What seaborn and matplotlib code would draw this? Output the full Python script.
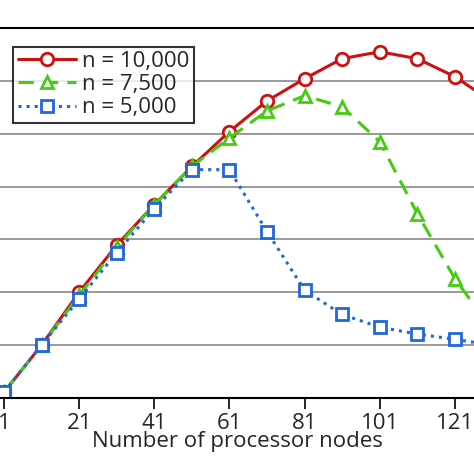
import numpy as np
import pandas as pd
import seaborn as sns
import matplotlib.pyplot as plt

nodes = [1, 11, 21, 31, 41, 51, 61, 71, 81, 91, 101, 111, 121, 131]
n10000 = [0.11, 1.0, 2.0, 2.89, 3.66, 4.38, 5.04, 5.62, 6.04, 6.42, 6.55, 6.42, 6.08, 5.6]
n7500 = [0.11, 1.0, 1.94, 2.85, 3.66, 4.38, 4.92, 5.43, 5.72, 5.51, 4.85, 3.49, 2.26, 1.28]
n5000 = [0.11, 1.0, 1.87, 2.75, 3.58, 4.32, 4.32, 3.15, 2.04, 1.58, 1.34, 1.21, 1.11, 1.0]
labels = ["n = 10,000", "n = 7,500", "n = 5,000"]

sns.set_style("white")
plt.rcParams['font.family'] = ['Open Sans', 'DejaVu Sans']

fig = plt.figure(figsize=(4.74, 4.74), dpi=100)
ax = fig.add_axes([0, 1 - 398 / 474, 1, 370 / 474])

styles = [
    (n10000, "#cc1111", "-", "o", 9),
    (n7500, "#44cc11", (0, (5, 3)), "^", 9),
    (n5000, "#2266dd", ":", "s", 9),
]
for (vals, c, ls, m, ms), lab in zip(styles, labels):
    sns.lineplot(x=nodes, y=vals, ax=ax, color=c, linestyle=ls, marker=m, markersize=ms,
                 markerfacecolor="white", markeredgecolor=c, markeredgewidth=2,
                 linewidth=2.2, label=lab)

ax.set_xlim(-0.06, 126.1)
ax.set_ylim(0, 7)
ax.set_xticks([1, 21, 41, 61, 81, 101, 121])
ax.set_yticks(range(0, 8))
ax.set_yticklabels([])
ax.yaxis.grid(True, color="#888888", linewidth=1.2)
ax.tick_params(axis="x", labelsize=16, length=8, width=1.2, direction="out", bottom=True, color="black", pad=3)
ax.tick_params(axis="y", length=0)
for s in ["top", "bottom"]:
    ax.spines[s].set_color("black")
    ax.spines[s].set_linewidth(1.5)
ax.spines["left"].set_visible(False)
ax.spines["right"].set_visible(False)
ax.set_xlabel("Number of processor nodes", fontsize=16, labelpad=-2)
leg = ax.legend(loc="upper left", fontsize=16, frameon=True, fancybox=False, edgecolor="black",
                borderpad=0.2, handlelength=2.6, handletextpad=0.3, labelspacing=0.1,
                bbox_to_anchor=(0.005, 0.98))
leg.get_frame().set_linewidth(1.5)
fig.savefig("out.png", dpi=100)
